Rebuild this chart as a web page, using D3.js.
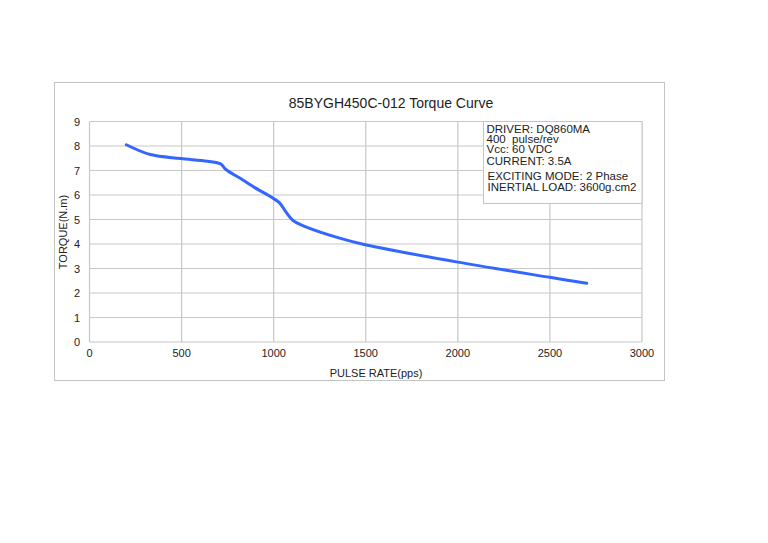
<!DOCTYPE html>
<html>
<head>
<meta charset="utf-8">
<script src="https://cdn.jsdelivr.net/npm/d3@7"></script>
<style>
  body { margin: 0; background: #fff; }
  text { font-family: "Liberation Sans", Arial, sans-serif; fill: #222; white-space: pre; }
</style>
</head>
<body>
<div id="chart"></div>
<script>
'use strict';

// Data
const pulseRate = [200, 330, 495, 640, 712, 739, 816, 900, 997, 1033, 1069, 1105, 1178, 1358, 1503, 2000, 2500, 2700];
const torque    = [8.05, 7.65, 7.49, 7.38, 7.27, 7.05, 6.69, 6.29, 5.87, 5.67, 5.28, 4.96, 4.69, 4.24, 3.96, 3.26, 2.64, 2.4];
const xTicks = [0, 500, 1000, 1500, 2000, 2500, 3000];
const yTicks = [0, 1, 2, 3, 4, 5, 6, 7, 8, 9];
const infoLines = ['DRIVER: DQ860MA', '400  pulse/rev', 'Vcc: 60 VDC', 'CURRENT: 3.5A', 'EXCITING MODE: 2 Phase', 'INERTIAL LOAD: 3600g.cm2'];

const w = 768, h = 543;
const svg = d3.select('#chart').append('svg')
    .attr('width', w)
    .attr('height', h);

// Outer frame
svg.append('rect')
    .attr('x', 54.5).attr('y', 82.5)
    .attr('width', 610).attr('height', 298)
    .attr('fill', '#fff')
    .attr('stroke', '#c4c4c4');

// Plot area
const plot = {left: 89.5, right: 642, top: 121.5, bottom: 342};
const x = d3.scaleLinear().domain([0, 3000]).range([plot.left, plot.right]);
const y = d3.scaleLinear().domain([0, 9]).range([plot.bottom, plot.top]);

const grid = svg.append('g').attr('class', 'grid');
grid.selectAll('.vx').data(xTicks).join('line')
    .attr('x1', d => x(d)).attr('x2', d => x(d))
    .attr('y1', plot.top).attr('y2', plot.bottom)
    .attr('stroke', '#c8c8c8').attr('stroke-width', 1.2);
grid.selectAll('.hy').data(yTicks).join('line')
    .attr('x1', plot.left).attr('x2', plot.right)
    .attr('y1', d => y(d)).attr('y2', d => y(d))
    .attr('stroke', '#c8c8c8').attr('stroke-width', 1.2);

// Tick labels
svg.append('g').selectAll('text').data(xTicks).join('text')
    .attr('x', d => x(d)).attr('y', plot.bottom + 15)
    .attr('text-anchor', 'middle')
    .attr('font-size', 11)
    .text(d => d);
svg.append('g').selectAll('text').data(yTicks).join('text')
    .attr('x', 80).attr('y', d => y(d) + 4)
    .attr('text-anchor', 'end')
    .attr('font-size', 11)
    .text(d => d);

// Axis titles
svg.append('text')
    .attr('x', 376).attr('y', 377)
    .attr('text-anchor', 'middle')
    .attr('font-size', 11)
    .text('PULSE RATE(pps)');
svg.append('text')
    .attr('transform', 'translate(67,232) rotate(-90)')
    .attr('text-anchor', 'middle')
    .attr('font-size', 11)
    .text('TORQUE(N.m)');

// Title
svg.append('text')
    .attr('x', 391).attr('y', 108)
    .attr('text-anchor', 'middle')
    .attr('font-size', 14)
    .text('85BYGH450C-012 Torque Curve');

// Curve
const pts = pulseRate.map((d, i) => [d, torque[i]]);
svg.append('path')
    .datum(pts)
    .attr('fill', 'none')
    .attr('stroke', '#3366ff')
    .attr('stroke-width', 3)
    .attr('stroke-linecap', 'round')
    .attr('d', d3.line().x(d => x(d[0])).y(d => y(d[1])).curve(d3.curveCatmullRom.alpha(0.5)));

// Info box
const info = svg.append('g').attr('class', 'info');
info.append('rect')
    .attr('x', 483.5).attr('y', plot.top)
    .attr('width', plot.right - 483.5).attr('height', 203.5 - plot.top)
    .attr('fill', '#fff')
    .attr('stroke', '#c4c4c4');
const lineY = [133, 143, 153, 164.5, 180, 191];
info.selectAll('text').data(infoLines).join('text')
    .attr('x', (d, i) => i >= 4 ? 487.5 : 486.5)
    .attr('y', (d, i) => lineY[i])
    .attr('font-size', 11.5)
    .text(d => d);
</script>
</body>
</html>
